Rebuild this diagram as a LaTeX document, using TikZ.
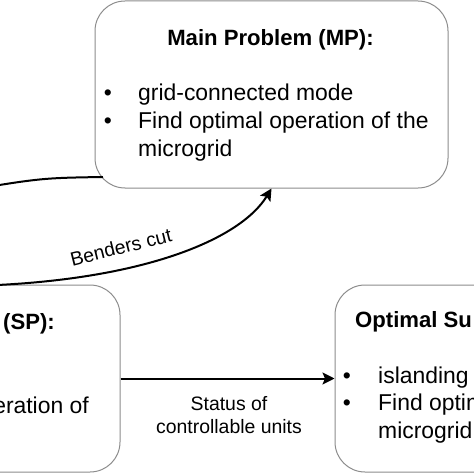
\documentclass[tikz,border=0pt]{standalone}
\usepackage{fontspec}
\setmainfont{Liberation Sans}
\usetikzlibrary{arrows.meta}
\begin{document}
\begin{tikzpicture}[x=1bp,y=-1bp,
	probbox/.style={draw=black!45,line width=1bp,rounded corners=30bp,minimum width=353bp,minimum height=187bp,inner sep=0pt},
	bigtext/.style={font=\fontsize{23}{27.7}\selectfont,inner sep=0pt},
	titletext/.style={font=\fontsize{22.2}{27.7}\selectfont\bfseries,inner sep=0pt},
	smalltext/.style={font=\fontsize{19.5}{22.6}\selectfont,inner sep=0pt},
	link/.style={line width=2bp,-{Stealth[length=12bp,width=12bp,inset=2.5bp]}}]
		\useasboundingbox (0,0) rectangle (474,474);
		\clip (0,0) rectangle (474,474);
		% the three problem boxes
		\node[probbox] (mp) at (271.5,94.5) {};
		\node[probbox] (sp) at (-56.5,378.5) {};
		\node[probbox] (osp) at (511.5,378.5) {};
		% main problem
		\node[titletext,anchor=base] (mptitle) at (270.5,46) {Main Problem (MP):};
		\node[bigtext,anchor=base] (mpdot1) at (108,101) {•};
		\node[bigtext,anchor=base west] (mpline1) at (138,101) {grid-connected mode};
		\node[bigtext,anchor=base] (mpdot2) at (108,128.7) {•};
		\node[bigtext,anchor=base west] (mpline2) at (138,128.7) {Find optimal operation of the};
		\node[bigtext,anchor=base west] (mpline3) at (138,156.4) {microgrid};
		% sub problem
		\node[titletext,anchor=base east] (sptitle) at (55,329) {(SP):};
		\node[bigtext,anchor=base east] (spline2) at (89,413) {eration of};
		% optimal sub problem
		\node[titletext,anchor=base west] (osptitle) at (355,327.5) {Optimal Su};
		\node[bigtext,anchor=base] (ospdot1) at (347,383) {•};
		\node[bigtext,anchor=base west] (ospline1) at (378,383) {islanding};
		\node[bigtext,anchor=base] (ospdot2) at (347,410.7) {•};
		\node[bigtext,anchor=base west] (ospline2) at (378,410.7) {Find optim};
		\node[bigtext,anchor=base west] (ospline3) at (378,438.4) {microgrid};
		% connectors
		\coordinate (mpout) at (103,177);
		\coordinate (spin) at (-60,195);
		\coordinate (bcstart) at (-30,286);
		\draw[link] (mpout) .. controls (40,178) .. (spin);
		\draw[link] (bcstart) .. controls (140,282) and (240,240) .. (mp.south);
		\node[smalltext,rotate=14] (bclabel) at (121,247) {Benders cut};
		\draw[link] (sp.east) -- (osp.west);
		\node[smalltext,align=center,anchor=base] (status) at (229,433.3) {Status of\\controllable units};
	\end{tikzpicture}
\end{document}
